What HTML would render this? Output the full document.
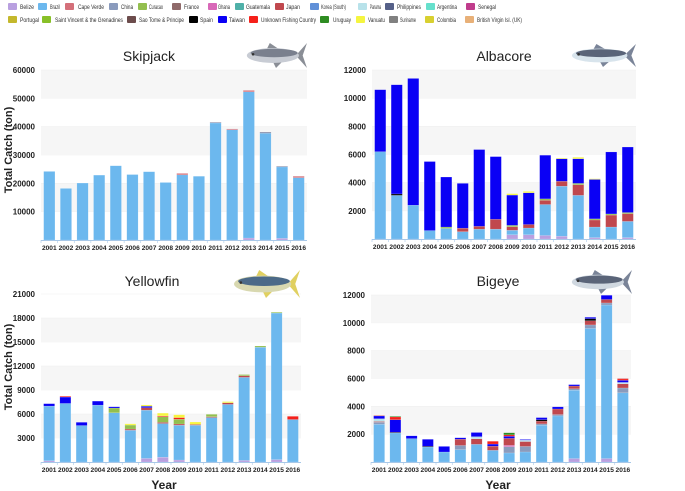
<!DOCTYPE html>
<html><head><meta charset="utf-8">
<style>
body{margin:0;background:#fff;width:685px;height:491px;overflow:hidden;font-family:"Liberation Sans",sans-serif}
svg{position:absolute;left:0;top:0}
</style></head>
<body>
<svg id="chart" width="685" height="491"></svg>
<script>
const years = ["2001","2002","2003","2004","2005","2006","2007","2008","2009","2010","2011","2012","2013","2014","2015","2016"];
const colors = {Belize:"#b9a0e0",Brazil:"#6cb8ee","Cape Verde":"#d4707a",China:"#8a9bbd",Curacao:"#93bf4f",France:"#8f6a6a",Ghana:"#d868b8",Guatemala:"#4fb0a8",Japan:"#c0484e","Korea (South)":"#6090d8",Panama:"#b8e2ea",Philippines:"#556088",Argentina:"#66e0cc",Senegal:"#c03c8c",Portugal:"#c4b82c","Saint Vincent & the Grenadines":"#88c028","Sao Tome & Principe":"#6c4c4c",Spain:"#000000",Taiwan:"#0a00f5","Unknown Fishing Country":"#f5201a",Uruguay:"#2e8c22",Vanuatu:"#f5f540",Suriname:"#808080",Colombia:"#d8d030","British Virgin Isl. (UK)":"#e8b078"};

// Skipjack
const skBelize=[0,0,0,0,0,0,0,0,0,0,0,0,700,0,600,0];
const skBrazil=[24200,18200,20100,22900,26200,23100,24100,20300,23000,22500,41300,38900,51600,37700,25200,22000];
const skPhilippines=[0,0,0,0,0,0,0,0,0,0,200,0,0,300,200,0];
const skCapeVerde=[0,0,0,0,0,0,0,0,500,0,0,300,500,0,0,500];
// Albacore
const alBelize=[0,0,0,0,0,0,0,0,300,300,250,200,0,100,0,100];
const alBrazil=[6200,3100,2400,600,750,520,700,700,320,480,2200,3550,3100,750,850,1150];
const alJapan=[0,0,0,0,0,250,200,700,250,250,300,350,750,500,850,550];
const alCuracao=[0,0,0,0,100,0,0,0,100,0,100,0,100,80,80,80];
const alSpain=[0,100,0,0,0,0,0,0,0,0,0,0,0,0,0,0];
const alTaiwan=[4400,7750,9000,4900,3550,3180,5450,4450,2150,2250,3100,1600,1750,2800,4400,4650];
const alVanuatu=[0,0,0,0,0,0,0,0,100,100,0,50,100,50,0,0];
// Yellowfin
const yfBelize=[150,0,0,0,0,0,450,600,250,0,0,0,200,0,300,0];
const yfBrazil=[6840,7320,4560,7110,6150,3970,6030,4210,4350,4600,5560,7200,10380,14350,18320,5310];
const yfJapan=[0,0,0,0,0,150,300,150,150,100,100,200,200,0,0,0];
const yfCuracao=[0,0,0,0,600,500,0,700,600,0,300,0,150,150,100,0];
const yfTaiwan=[300,800,400,500,150,0,200,0,0,0,0,0,0,0,0,0];
const yfUnknown=[0,100,0,0,0,0,0,100,200,0,0,0,0,0,0,400];
const yfVanuatu=[0,0,0,0,0,150,150,350,350,300,0,150,0,0,0,0];
// Bigeye
const beBelize=[0,0,0,0,0,0,0,0,0,0,0,0,250,0,250,0];
const beBrazil=[2710,2090,1680,1080,720,890,1270,840,650,720,2640,3310,4910,9600,11030,4970];
const beChina=[150,0,0,0,0,300,0,0,450,400,100,100,100,250,150,350];
const beGhana=[0,0,0,0,0,0,0,0,100,0,0,0,0,0,0,0];
const beJapan=[50,0,0,0,0,450,400,300,500,350,200,400,200,300,250,300];
const bePanama=[200,0,0,0,0,0,150,0,0,100,0,0,0,0,0,100];
const beSpain=[0,50,0,50,0,0,0,0,0,0,100,0,0,150,0,0];
const beTaiwan=[200,900,200,500,400,100,300,150,150,50,150,150,100,100,300,150];
const beUnknown=[0,200,0,0,0,0,0,200,100,0,0,0,0,0,0,100];
const beUruguay=[0,50,0,0,0,0,0,0,150,0,0,0,0,0,0,0];
const beCapeVerde=[50,0,0,0,0,0,0,0,0,0,0,0,0,0,0,50];

const skTicks=[10000,20000,30000,40000,50000,60000];
const alTicks=[2000,4000,6000,8000,10000,12000];
const yfTicks=[3000,6000,9000,12000,15000,18000,21000];
const beTicks=[2000,4000,6000,8000,10000,12000];

const NS="http://www.w3.org/2000/svg";
const svg=document.getElementById('chart');
function mk(tag,attrs,parent){const e=document.createElementNS(NS,tag);for(const k in attrs)e.setAttribute(k,attrs[k]);(parent||svg).appendChild(e);return e;}

// legend
const legG=mk('g',{});


const legItems=[["Belize",8,20,34,1],["Brazil",38,50,60,1],["Cape Verde",65,78,104,1],["China",109,121,133,1],["Curacao",138,149,163,1],["France",172,184,199,1],["Ghana",208,218,230,1],["Guatemala",235,246,270,1],["Japan",275,286,300,1],["Korea (South)",310,321,346,1],["Panama",358,370,381,1],["Philippines",385,397,421,1],["Argentina",426,437,457,1],["Senegal",466,478,496,1],
["Portugal",8,20,39,2],["Saint Vincent & the Grenadines",42,55,123,2],["Sao Tome & Principe",127,139,184,2],["Spain",189,200,213,2],["Taiwan",218,229,245,2],["Unknown Fishing Country",249,261,316,2],["Uruguay",320,333,351,2],["Vanuatu",356,368,385,2],["Suriname",389,400,416,2],["Colombia",425,437,456,2],["British Virgin Isl. (UK)",465,477,522,2]];
legItems.forEach(it=>{
  const y=it[4]===1?3:16;
  const s=mk('rect',{x:it[1],y:y,width:9,height:7,rx:1,fill:colors[it[0]]},legG);
  
  
  const t=mk('text',{x:it[2],y:y+6,'font-size':6.5,fill:'#333',textLength:it[3]-it[2],lengthAdjust:'spacingAndGlyphs'},legG);
  
  
  t.textContent=it[0];
});

function drawChart(c){
  const g=mk('g',{});
  
  
  const yS=v=>c.bottom-(v/c.max)*(c.bottom-c.top);
  const band=(c.right-c.left)/years.length;
  const xC=i=>c.left+band*(i+0.5);
  for(let k=0;k<c.ticks.length;k++){
    const lo=k===0?0:c.ticks[k-1];
    if(k%2===1){const r=mk('rect',{x:c.left,y:yS(c.ticks[k]),width:c.right-c.left,height:yS(lo)-yS(c.ticks[k]),fill:'#f6f6f6'},g);
      }
    mk('line',{x1:c.left,x2:c.right,y1:yS(c.ticks[k]),y2:yS(c.ticks[k]),stroke:'#efefef','stroke-width':0.6},g);
    const t=mk('text',{x:c.left-6,y:yS(c.ticks[k])+3,'text-anchor':'end','font-size':8,'font-weight':'bold',fill:'#222'},g);
    
    t.textContent=c.ticks[k];
  }
  const bw=band*0.68;
  years.forEach((yr,i)=>{
    let acc=0;
    c.series.forEach(s=>{
      const v=s[1][i]; if(!v) return;
      const r=mk('rect',{x:xC(i)-bw/2,y:yS(acc+v),width:bw,height:yS(acc)-yS(acc+v),fill:colors[s[0]],stroke:'rgba(255,255,255,0.35)','stroke-width':0.4},g);
      
      
      acc+=v;
    });
    const t=mk('text',{x:xC(i),y:c.bottom+10,'text-anchor':'middle','font-size':6.6,'font-weight':'bold',fill:'#222'},g);
    
    t.textContent=yr;
    mk('line',{x1:c.left+band*i,x2:c.left+band*i,y1:c.bottom,y2:c.bottom+3,stroke:'#a8c8e8','stroke-width':0.6},g);
  });
  mk('line',{x1:c.left,x2:c.right,y1:c.bottom+0.5,y2:c.bottom+0.5,stroke:'#a8c8e8','stroke-width':1},g);
  const tt=mk('text',{x:c.titleX,y:c.titleY,'text-anchor':'middle','font-size':14,fill:'#222'},g);
  
  tt.textContent=c.title;
}

drawChart({name:'skipjack',title:'Skipjack',titleX:149,titleY:61,left:41,right:307,top:70,bottom:240,max:60000,ticks:skTicks,
 series:[["Belize",skBelize],["Brazil",skBrazil],["Philippines",skPhilippines],["Cape Verde",skCapeVerde]]});
drawChart({name:'albacore',title:'Albacore',titleX:504,titleY:61,left:372,right:636,top:70,bottom:239,max:12000,ticks:alTicks,
 series:[["Belize",alBelize],["Brazil",alBrazil],["Japan",alJapan],["Curacao",alCuracao],["Spain",alSpain],["Taiwan",alTaiwan],["Vanuatu",alVanuatu]]});
drawChart({name:'yellowfin',title:'Yellowfin',titleX:152,titleY:286,left:41,right:301,top:294,bottom:462,max:21000,ticks:yfTicks,
 series:[["Belize",yfBelize],["Brazil",yfBrazil],["Japan",yfJapan],["Curacao",yfCuracao],["Taiwan",yfTaiwan],["Unknown Fishing Country",yfUnknown],["Vanuatu",yfVanuatu]]});
drawChart({name:'bigeye',title:'Bigeye',titleX:498,titleY:286,left:371,right:631,top:295,bottom:462,max:12000,ticks:beTicks,
 series:[["Belize",beBelize],["Brazil",beBrazil],["China",beChina],["Ghana",beGhana],["Japan",beJapan],["Panama",bePanama],["Spain",beSpain],["Taiwan",beTaiwan],["Unknown Fishing Country",beUnknown],["Uruguay",beUruguay],["Cape Verde",beCapeVerde]]});

[[150,'y-axis-title-skipjack'],[367,'y-axis-title-yellowfin']].forEach(p=>{
  const t=mk('text',{x:0,y:0,transform:`translate(12,${p[0]}) rotate(-90)`,'text-anchor':'middle','font-size':11,'font-weight':'bold',fill:'#222'});
  
  t.textContent='Total Catch (ton)';
});
[164,498].forEach(x=>{
  const t=mk('text',{x:x,y:489,'text-anchor':'middle','font-size':12,'font-weight':'bold',fill:'#222'});
  
  t.textContent='Year';
});
function fish(x,y,w,h,belly,back,fin){
  const g=mk('g',{transform:`translate(${x},${y})`});
  
  
  mk('polygon',{points:`${w*0.82},${h*0.5} ${w},${0} ${w*0.93},${h*0.5} ${w},${h}`,fill:fin},g);
  mk('polygon',{points:`${w*0.35},${h*0.25} ${w*0.4},0 ${w*0.55},${h*0.25}`,fill:fin},g);
  mk('polygon',{points:`${w*0.45},${h*0.75} ${w*0.5},${h} ${w*0.6},${h*0.75}`,fill:fin},g);
  mk('ellipse',{cx:w*0.45,cy:h*0.5,rx:w*0.42,ry:h*0.3,fill:belly},g);
  mk('ellipse',{cx:w*0.47,cy:h*0.4,rx:w*0.38,ry:h*0.17,fill:back},g);
  mk('circle',{cx:w*0.13,cy:h*0.45,r:1.3,fill:'#333'},g);
}
fish(245,43,62,25,'#c8ccd4','#7a808e','#8a8e96');
fish(570,44,66,23,'#d8e4ec','#5a6478','#7a8498');
fish(232,270,68,28,'#d8d8b0','#4c6a88','#e0d060');
fish(570,270,62,24,'#d0d8e0','#5a6478','#7a8498');
</script>
</body></html>
